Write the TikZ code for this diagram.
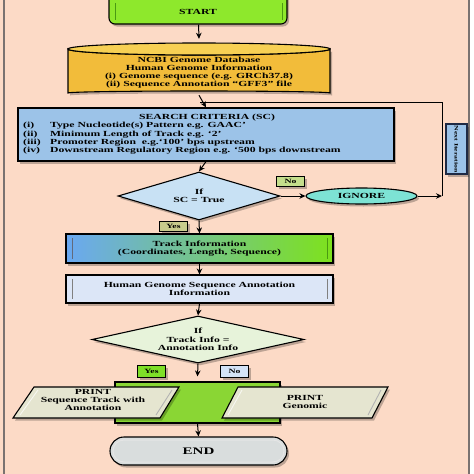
\documentclass[tikz,border=0pt]{standalone}
\usepackage{fontspec}
\setmainfont{Liberation Serif}[FakeStretch=1.5]
\usetikzlibrary{shapes.geometric,arrows.meta,shadows}
\definecolor{bgc}{HTML}{FCDAC6}
\definecolor{framec}{HTML}{7A7270}
\definecolor{startc}{HTML}{8EE82C}
\definecolor{startln}{HTML}{4A9A12}
\definecolor{dbc}{HTML}{F2BC3A}
\definecolor{dbtop}{HTML}{F7D054}
\definecolor{scc}{HTML}{9CC3E8}
\definecolor{navy}{HTML}{1F2A44}
\definecolor{dia1c}{HTML}{C8E1F4}
\definecolor{no1c}{HTML}{C4DE8C}
\definecolor{ignc}{HTML}{7DE3D4}
\definecolor{yes1c}{HTML}{C8CB8C}
\definecolor{trkl}{HTML}{6AA8F2}
\definecolor{trkr}{HTML}{7EE21C}
\definecolor{annc}{HTML}{DCE6F7}
\definecolor{dia2c}{HTML}{E7F3DA}
\definecolor{yes2c}{HTML}{7EDF28}
\definecolor{no2c}{HTML}{D3E3F6}
\definecolor{grnc}{HTML}{8AD634}
\definecolor{parc}{HTML}{E5E5D0}
\definecolor{endc}{HTML}{D9DDDD}
\tikzset{
  shd/.style={drop shadow={shadow xshift=2pt,shadow yshift=-2.5pt,opacity=0.25,fill=black}},
  boxed/.style={draw=black, line width=1.1pt, inner sep=0pt, align=center, shd},
  tag/.style={draw=black, line width=0.8pt, inner sep=1.5pt, minimum width=28pt, minimum height=10pt, font=\bfseries\fontsize{6.5}{7}\selectfont, shd},
  txt/.style={inner sep=0pt, align=center},
  arr/.style={-{Stealth[length=6pt,width=5.5pt]}, line width=1pt, black},
  ln/.style={line width=1pt, black},
  parashape/.style={draw=black, line width=1.1pt, fill=parc, shd},
  paraline/.style={white!70!parc, line width=0.9pt}
}
\begin{document}
\begin{tikzpicture}[x=1pt,y=-1pt, font=\bfseries\fontsize{7.8}{8.3}\selectfont]
\useasboundingbox (0,0) rectangle (474,474);
\fill[bgc] (0,0) rectangle (469,474);
\fill[white] (469,0) rectangle (474,474);
\draw[framec, line width=1.5pt] (4,-2) -- (4,476);
\draw[framec, line width=1.5pt] (469,-2) -- (469,476);

% START
\node[boxed, fill=startc, rounded corners=6pt, minimum width=178pt, minimum height=32pt] (start) at (198,8) {};
\draw[startln, line width=1pt] (115,3) -- (115,20) (282,3) -- (282,20);
\node[txt] (starttxt) at (198,12) {START};

% Database cylinder
\node[txt, minimum width=262pt, minimum height=52pt] (db) at (199,69) {};
\path[draw=black, line width=1.1pt, fill=dbc, shd] (68,49) -- (68,93) arc[start angle=180, end angle=360, x radius=131, y radius=2] -- (330,49) arc[start angle=0, end angle=180, x radius=131, y radius=6] -- cycle;
\draw[black, line width=1.1pt, fill=dbtop] (199,49) ellipse[x radius=131, y radius=6];
\node[txt, font=\bfseries\fontsize{7.8}{7.8}\selectfont] (dbtxt) at (199,72.5) {NCBI Genome Database\\Human Genome Information\\(i) Genome sequence (e.g. GRCh37.8)\\(ii) Sequence Annotation “GFF3” file};

% Search criteria
\node[boxed, fill=scc, minimum width=376pt, minimum height=53pt] (sc) at (206,134.5) {};
\node[txt] (sctitle) at (207,117.5) {SEARCH CRITERIA (SC)};
\node[txt, anchor=west] (n1) at (23,126) {(i)};
\node[txt, anchor=west] (n2) at (23,134.3) {(ii)};
\node[txt, anchor=west] (n3) at (23,142.6) {(iii)};
\node[txt, anchor=west] (n4) at (23,150.9) {(iv)};
\node[txt, anchor=west] (t1) at (50,126) {Type Nucleotide(s) Pattern e.g. GAAC’};
\node[txt, anchor=west] (t2) at (50,134.3) {Minimum Length of Track e.g. ‘2’};
\node[txt, anchor=west] (t3) at (50,142.6) {Promoter Region\ \ e.g.‘100’ bps upstream};
\node[txt, anchor=west] (t4) at (50,150.9) {Downstream Regulatory Region e.g. ‘500 bps downstream};

% Next iteration
\node[draw=navy, line width=1.3pt, fill=scc, minimum width=50pt, minimum height=21pt, inner sep=0pt, rotate=-90, font=\bfseries\fontsize{5.2}{6}\selectfont, shd] (next) at (456.5,149) {Next Iteration};

% Decision 1
\node[diamond, boxed, fill=dia1c, minimum width=162pt, minimum height=48pt, aspect=3.4] (d1) at (199,196) {If\\SC = True};
\node[tag, fill=no1c] (no1) at (290.5,181) {No};
\node[boxed, ellipse, fill=ignc, minimum width=111pt, minimum height=16pt] (ign) at (361.5,196) {IGNORE};
\node[tag, fill=yes1c] (yes1) at (173.5,226.5) {Yes};

% loop
\coordinate (lbr) at (442,196);
\coordinate (ltr) at (442,102);
\coordinate (ljoin) at (200,102);

% Track info
\node[boxed, left color=trkl, right color=trkr, minimum width=267pt, minimum height=29pt] (trk) at (199.5,248.5) {Track Information\\(Coordinates, Length, Sequence)};
\draw[navy!70, line width=0.9pt] (72,238) -- (72,259);
\draw[startln, line width=0.9pt] (327,238) -- (327,259);

% Annotation
\node[boxed, fill=annc, minimum width=267pt, minimum height=28pt] (ann) at (199.5,289) {Human Genome Sequence Annotation\\Information};
\draw[gray, line width=0.9pt] (72,279) -- (72,299) (327,279) -- (327,299);

% Decision 2
\node[diamond, boxed, fill=dia2c, minimum width=212pt, minimum height=47pt, aspect=4.5] (d2) at (198,339.5) {If\\Track Info =\\Annotation Info};
\node[tag, fill=yes2c, minimum height=12pt] (yes2) at (151.5,371) {Yes};
\node[tag, fill=no2c, minimum height=12pt] (no2) at (234.5,371) {No};

% Green box and prints
\node[boxed, fill=grnc, minimum width=165pt, minimum height=41pt] (grn) at (197.5,402.5) {};
\path[parashape] (34,387) -- (179,387) -- (160,418) -- (13,418) -- cycle;
\draw[paraline] (38,390) -- (20,415);
\draw[gray!60, line width=0.9pt] (172,390) -- (156,415);
\node[txt] (p1) at (93,400) {PRINT\\Sequence Track with\\Annotation};
\path[parashape] (238,387) -- (388,387) -- (372,418) -- (222,418) -- cycle;
\draw[paraline] (242,390) -- (228,415);
\draw[gray!60, line width=0.9pt] (381,390) -- (368,415);
\node[txt] (p2) at (305,402) {PRINT\\Genomic};

% END
\node[boxed, fill=endc, rounded corners=14pt, minimum width=177pt, minimum height=28pt, font=\bfseries\fontsize{10}{11}\selectfont] (end) at (198.5,451) {END};
\draw[white!80!gray, line width=1pt, rounded corners=11pt] (113,440) rectangle (284,462);

% connectors
\draw[arr] (start) -- ([yshift=4pt]db.north);
\draw[arr] (db.south) -- (sc.north);
\draw[arr] (sc.south) -- (d1.north);
\draw[arr] (d1.east) -- (ign.west);
\draw[arr] (ign.east) -- (lbr);
\draw[ln] (lbr) -- (ltr) -- (ljoin);
\draw[arr] (d1.south) -- (trk.north);
\draw[arr] (trk.south) -- (ann.north);
\draw[arr] (ann.south) -- (d2.north);
\draw[arr] (d2.south) -- ([yshift=5pt]grn.north);
\draw[arr] (grn.south) -- (end.north);
\end{tikzpicture}
\end{document}
